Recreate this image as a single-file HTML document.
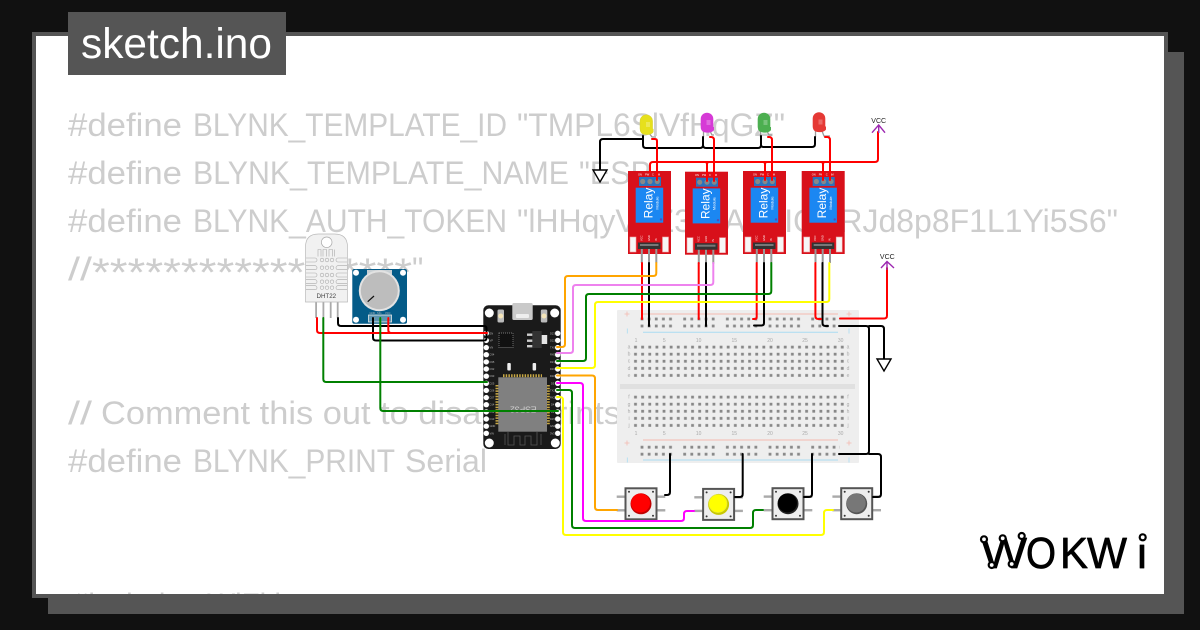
<!DOCTYPE html>
<html>
<head>
<meta charset="utf-8">
<style>
html,body{margin:0;padding:0;background:#111;width:1200px;height:630px;overflow:hidden}
svg{display:block}
.c{font-family:"Liberation Sans",sans-serif;font-size:32px;fill:#cdcdcd}
.w{fill:none;stroke-width:2;stroke-linejoin:round;stroke-linecap:round}
.bb{font-family:"Liberation Sans",sans-serif;font-size:5px;fill:#aaa;text-anchor:middle}
.p{font-family:"Liberation Sans",sans-serif;font-size:2.6px;fill:#bbb}
.r{font-family:"Liberation Sans",sans-serif;font-size:2.6px;fill:#fff}
.lg{font-family:"Liberation Sans",sans-serif;font-size:44px;fill:#000;stroke:#000;stroke-width:.7;stroke-linejoin:round}
</style>
</head>
<body>
<svg width="1200" height="630" viewBox="0 0 1200 630" xmlns="http://www.w3.org/2000/svg">
<defs>
<clipPath id="cl"><rect x="36" y="36" width="1128" height="558"/></clipPath>
<pattern id="hm" patternUnits="userSpaceOnUse" x="632" y="343.5" width="7.13" height="7.08"><rect x="2.1" y="2.2" width="2.8" height="2.8" fill="#888"/></pattern>
<pattern id="hr" patternUnits="userSpaceOnUse" x="640" y="317" width="42.67" height="7"><rect x=".6" y=".6" width="2.8" height="2.8" fill="#888"/><rect x="7.73" y=".6" width="2.8" height="2.8" fill="#888"/><rect x="14.86" y=".6" width="2.8" height="2.8" fill="#888"/><rect x="21.99" y=".6" width="2.8" height="2.8" fill="#888"/><rect x="29.12" y=".6" width="2.8" height="2.8" fill="#888"/></pattern>
<g id="rl">
<rect width="43" height="83" fill="#d8101a"/>
<rect x="11" y="6" width="22" height="9" fill="#2a72bd"/>
<circle cx="14.7" cy="10.5" r="2.6" fill="#888"/><circle cx="22" cy="10.5" r="2.6" fill="#888"/><circle cx="29.3" cy="10.5" r="2.6" fill="#888"/>
<rect x="7.7" y="16.7" width="27.5" height="35" fill="#1b87f2"/>
<circle cx="33" cy="48.5" r="1.2" fill="#5a4bb5"/>
<rect x="2" y="66" width="6" height="15" fill="#f6f6f6" stroke="#f0a0a0" stroke-width=".6"/>
<rect x="34.5" y="66" width="6" height="15" fill="#f6f6f6" stroke="#f0a0a0" stroke-width=".6"/>
<rect x="12.8" y="78" width="2" height="14" fill="#999"/><rect x="20" y="78" width="2" height="14" fill="#999"/><rect x="27.3" y="78" width="2" height="14" fill="#999"/>
<rect x="10" y="71.5" width="22.5" height="6.5" fill="#333"/>
<rect x="12" y="73" width="18.5" height="2" fill="#777"/>
</g>
<g id="bn">
<rect x="-24.3" y="-8.3" width="8" height="2.4" fill="#aaa"/><rect x="-24.3" y="5.3" width="8" height="2.4" fill="#aaa"/>
<rect x="16.3" y="-8.3" width="8" height="2.4" fill="#aaa"/><rect x="16.3" y="5.3" width="8" height="2.4" fill="#aaa"/>
<rect x="-15.5" y="-15.5" width="31" height="31" fill="#eee" stroke="#555" stroke-width="2"/>
<circle cx="-12" cy="-12" r="1" fill="#333"/><circle cx="12" cy="-12" r="1" fill="#333"/><circle cx="-12" cy="12" r="1" fill="#333"/><circle cx="12" cy="12" r="1" fill="#333"/>
</g>
</defs>

<rect width="1200" height="630" fill="#111"/>
<rect x="48" y="52" width="1136" height="562" fill="#555"/>
<rect x="32" y="32" width="1136" height="566" fill="#555"/>
<rect x="36" y="36" width="1128" height="558" fill="#fff"/>

<g clip-path="url(#cl)">
<text class="c" x="68" y="136" textLength="114" lengthAdjust="spacingAndGlyphs">#define</text>
<text class="c" x="193" y="136" textLength="314" lengthAdjust="spacingAndGlyphs">BLYNK_TEMPLATE_ID</text>
<text class="c" x="517" y="136" textLength="268" lengthAdjust="spacingAndGlyphs">"TMPL6SlVfHqGZ"</text>
<text class="c" x="68" y="184" textLength="114" lengthAdjust="spacingAndGlyphs">#define</text>
<text class="c" x="193" y="184" textLength="376" lengthAdjust="spacingAndGlyphs">BLYNK_TEMPLATE_NAME</text>
<text class="c" x="579" y="184" textLength="72" lengthAdjust="spacingAndGlyphs">"ESP</text>
<text class="c" x="68" y="232" textLength="114" lengthAdjust="spacingAndGlyphs">#define</text>
<text class="c" x="193" y="232" textLength="314" lengthAdjust="spacingAndGlyphs">BLYNK_AUTH_TOKEN</text>
<text class="c" x="517" y="232" textLength="601" lengthAdjust="spacingAndGlyphs">"lHHqyV5Z3cJA8KIQXRJd8p8F1L1Yi5S6"</text>
<text class="c" x="68" y="280" textLength="24" lengthAdjust="spacingAndGlyphs">//</text>
<text class="c" x="92" y="286" style="font-size:40px" textLength="320" lengthAdjust="spacingAndGlyphs">******************</text>
<text class="c" x="412" y="280">"</text>
<text class="c" x="68" y="424" textLength="24" lengthAdjust="spacingAndGlyphs">//</text>
<text class="c" x="101" y="424" textLength="520" lengthAdjust="spacingAndGlyphs">Comment this out to disable prints</text>
<text class="c" x="68" y="472" textLength="114" lengthAdjust="spacingAndGlyphs">#define</text>
<text class="c" x="193" y="472" textLength="202" lengthAdjust="spacingAndGlyphs">BLYNK_PRINT</text>
<text class="c" x="405" y="472" textLength="82" lengthAdjust="spacingAndGlyphs">Serial</text>
<text class="c" x="72" y="616" textLength="236" lengthAdjust="spacingAndGlyphs">#include &lt;WiFi.h&gt;</text>
</g>

<!-- tab -->
<rect x="68" y="12" width="218" height="63" fill="#555"/>
<text x="81" y="58" font-family="Liberation Sans,sans-serif" font-size="43" fill="#fff" textLength="191" lengthAdjust="spacingAndGlyphs">sketch.ino</text>

<!-- breadboard -->
<rect x="617" y="310" width="242" height="153" rx="1" fill="#eee"/>
<rect x="620" y="384" width="235" height="5" fill="#e0e0e0"/>
<line x1="643" y1="314" x2="838" y2="314" stroke="#f4b9b0" stroke-width="1"/>
<line x1="643" y1="332.3" x2="838" y2="332.3" stroke="#aadcf2" stroke-width="1"/>
<line x1="643" y1="440" x2="838" y2="440" stroke="#f4b9b0" stroke-width="1"/>
<line x1="643" y1="460" x2="838" y2="460" stroke="#aadcf2" stroke-width="1"/>
<g stroke="#f4b9b0" stroke-width=".8"><path d="M624.5 314h5M627 311.5v5M846.5 314h5M849 311.5v5M624.5 443h5M627 440.5v5M846.5 443h5M849 440.5v5"/></g>
<g stroke="#aadcf2" stroke-width=".8"><path d="M627.3 328.5v5M849 328.5v5M627.3 457.5v5M849 457.5v5"/></g>
<rect x="640" y="317" width="200" height="11" fill="url(#hr)"/>
<g transform="translate(0,128.2)"><rect x="640" y="317" width="200" height="11" fill="url(#hr)"/></g>
<rect x="633" y="344" width="212" height="35" fill="url(#hm)"/>
<g transform="translate(0,50)"><rect x="633" y="344" width="212" height="35" fill="url(#hm)"/></g>
<g>
<text class="bb" x="636" y="342">1</text><text class="bb" x="664.3" y="342">5</text><text class="bb" x="698.7" y="342">10</text><text class="bb" x="734.3" y="342">15</text><text class="bb" x="770" y="342">20</text><text class="bb" x="805" y="342">25</text><text class="bb" x="840.7" y="342">30</text>
<text class="bb" x="636" y="435">1</text><text class="bb" x="664.3" y="435">5</text><text class="bb" x="698.7" y="435">10</text><text class="bb" x="734.3" y="435">15</text><text class="bb" x="770" y="435">20</text><text class="bb" x="805" y="435">25</text><text class="bb" x="840.7" y="435">30</text>
<text class="bb" x="629" y="348.5">a</text><text class="bb" x="629" y="355.5">b</text><text class="bb" x="629" y="362.5">c</text><text class="bb" x="629" y="370">d</text><text class="bb" x="629" y="377">e</text>
<text class="bb" x="848" y="348.5">a</text><text class="bb" x="848" y="355.5">b</text><text class="bb" x="848" y="362.5">c</text><text class="bb" x="848" y="370">d</text><text class="bb" x="848" y="377">e</text>
<text class="bb" x="629" y="398.5">f</text><text class="bb" x="629" y="406">g</text><text class="bb" x="629" y="413">h</text><text class="bb" x="629" y="420">i</text><text class="bb" x="629" y="427">j</text>
<text class="bb" x="848" y="398.5">f</text><text class="bb" x="848" y="406">g</text><text class="bb" x="848" y="413">h</text><text class="bb" x="848" y="420">i</text><text class="bb" x="848" y="427">j</text>
</g>

<!-- DHT22 -->
<g>
<rect x="315.2" y="300" width="1.8" height="18" fill="#aaa"/><rect x="322.5" y="300" width="1.8" height="18" fill="#aaa"/><rect x="329.8" y="300" width="1.8" height="18" fill="#aaa"/><rect x="336.8" y="300" width="1.8" height="18" fill="#aaa"/>
<path d="M305.5 302V247q0-13 13-13h16q13 0 13 13v55z" fill="#f1f1f1" stroke="#b9b9b9" stroke-width=".7"/>
<circle cx="326.7" cy="242.3" r="5.3" fill="#fff" stroke="#aaa" stroke-width=".7"/>
<path d="M318 256.5v-7h3v7M323 256.5v-7h3.5v7M329 256.5v-7h3.5v7M334.5 256.5v-7" fill="none" stroke="#aaa" stroke-width=".6"/>
<g fill="none" stroke="#aaa" stroke-width=".6">
<path d="M306 258h9a2 2 0 0 1 0 4h-9M306 265.7h9a2 2 0 0 1 0 4h-9M306 273h9a2 2 0 0 1 0 4h-9M306 279.7h9a2 2 0 0 1 0 4h-9M306 285.7h9a2 2 0 0 1 0 4h-9"/>
<path d="M347 258h-9a2 2 0 0 0 0 4h9M347 265.7h-9a2 2 0 0 0 0 4h9M347 273h-9a2 2 0 0 0 0 4h9M347 279.7h-9a2 2 0 0 0 0 4h9M347 285.7h-9a2 2 0 0 0 0 4h9"/>
<circle cx="322" cy="260" r="1.8"/><circle cx="327" cy="260" r="1.8"/><circle cx="332" cy="260" r="1.8"/>
<circle cx="322" cy="267.7" r="1.8"/><circle cx="327" cy="267.7" r="1.8"/><circle cx="332" cy="267.7" r="1.8"/>
<circle cx="322" cy="275" r="1.8"/><circle cx="327" cy="275" r="1.8"/><circle cx="332" cy="275" r="1.8"/>
<circle cx="322" cy="281.7" r="1.8"/><circle cx="327" cy="281.7" r="1.8"/><circle cx="332" cy="281.7" r="1.8"/>
<circle cx="322" cy="287.7" r="1.8"/><circle cx="327" cy="287.7" r="1.8"/><circle cx="332" cy="287.7" r="1.8"/>
</g>
<text x="326.3" y="298" font-family="Liberation Sans,sans-serif" font-size="6.2" fill="#444" text-anchor="middle">DHT22</text>
</g>

<!-- Potentiometer -->
<g>
<rect x="352.3" y="269" width="54.7" height="54.7" rx="2" fill="#045b88"/>
<circle cx="356" cy="272.7" r="3" fill="#fff"/><circle cx="403" cy="272.7" r="3" fill="#fff"/><circle cx="356" cy="319.7" r="3" fill="#fff"/><circle cx="403" cy="319.7" r="3" fill="#fff"/>
<rect x="367" y="270" width="25" height="8" fill="#c8d0d4"/>
<circle cx="379.3" cy="290.7" r="20.5" fill="#e2e2e2"/>
<circle cx="379.3" cy="290.7" r="18.500" fill="#bdbdbd"/>
<line x1="367.7" y1="301.7" x2="374" y2="296" stroke="#111" stroke-width="1.2"/>
<rect x="368.5" y="315" width="23" height="7" fill="#fff" fill-opacity=".35" stroke="#e8e8e8" stroke-width=".8"/>
<circle cx="373.3" cy="318.5" r="1.4" fill="#999"/><circle cx="380.3" cy="318.5" r="1.4" fill="#999"/><circle cx="388.3" cy="318.5" r="1.4" fill="#999"/>
<text class="p" x="369.5" y="314">GND</text><text class="p" x="377" y="314">SIG</text><text class="p" x="385" y="314">VCC</text>
</g>

<!-- ESP32 -->
<g>
<rect x="483.3" y="305.3" width="77.4" height="143.7" rx="5" fill="#1a1a1a"/>
<rect x="512.3" y="303" width="20.4" height="17" rx="1.5" fill="#c9c9c9"/>
<rect x="516" y="314" width="13" height="4" rx="1" fill="#eee"/>
<circle cx="489.3" cy="313" r="4.5" fill="#fff"/><circle cx="554.7" cy="313" r="4.5" fill="#fff"/><circle cx="489.3" cy="443" r="4.5" fill="#fff"/><circle cx="555.3" cy="443" r="4.5" fill="#fff"/>
<rect x="497.5" y="309.5" width="6.5" height="13" rx="1.5" fill="#bbb"/><circle cx="500.7" cy="316" r="2.5" fill="#f4e4b8"/>
<rect x="540.8" y="309.5" width="6.5" height="13" rx="1.5" fill="#bbb"/><circle cx="544" cy="316" r="2.5" fill="#f4e4b8"/>
<rect x="499" y="333" width="14" height="14.5" fill="#111" stroke="#777" stroke-width=".9" stroke-dasharray="1 1"/>
<rect x="527" y="333.5" width="6" height="2.4" fill="#ccc"/><rect x="527" y="339.5" width="6" height="2.4" fill="#ccc"/><rect x="527" y="345" width="6" height="2.4" fill="#ccc"/>
<rect x="532.3" y="331" width="9.4" height="17" fill="#333"/><rect x="541.7" y="335" width="5.5" height="9" fill="#e5e5e5"/>
<rect x="507.3" y="363" width="3.5" height="7.5" rx="1" fill="#eee"/><rect x="532.6" y="363" width="3.5" height="7.5" rx="1" fill="#eee"/>
<g fill="none" stroke="#c9a945" stroke-width="3" stroke-dasharray="1.5 1.2">
<path d="M503 375.800H542M497 385V425M548.300 385V425"/>
</g>
<rect x="498.3" y="377.3" width="48.7" height="54.4" fill="#808080"/>
<text x="0" y="0" transform="translate(523.3,406.5) rotate(180)" font-family="Liberation Sans,sans-serif" font-size="8.5" fill="#d0d0d0" text-anchor="middle">ESP32</text>
<path d="M508 432v13h6v-9h6v9h5v-9h6v9h6v-13" fill="none" stroke="#555" stroke-width=".8"/>
<path d="M505 434v11M541 434v11" fill="none" stroke="#555" stroke-width=".8"/>
<g fill="#fff">
<circle cx="486.3" cy="333.3" r="2.7"/><circle cx="486.3" cy="340.4" r="2.7"/><circle cx="486.3" cy="347.6" r="2.7"/><circle cx="486.3" cy="354.7" r="2.7"/><circle cx="486.3" cy="361.9" r="2.7"/><circle cx="486.3" cy="369" r="2.7"/><circle cx="486.3" cy="376.2" r="2.7"/><circle cx="486.3" cy="383.3" r="2.7"/><circle cx="486.3" cy="390.4" r="2.7"/><circle cx="486.3" cy="397.6" r="2.7"/><circle cx="486.3" cy="404.7" r="2.7"/><circle cx="486.3" cy="411.9" r="2.7"/><circle cx="486.3" cy="419" r="2.7"/><circle cx="486.3" cy="426.2" r="2.7"/><circle cx="486.3" cy="433.3" r="2.7"/>
<circle cx="557.7" cy="333.3" r="2.7"/><circle cx="557.7" cy="340.4" r="2.7"/><circle cx="557.7" cy="347.6" r="2.7"/><circle cx="557.7" cy="354.7" r="2.7"/><circle cx="557.7" cy="361.9" r="2.7"/><circle cx="557.7" cy="369" r="2.7"/><circle cx="557.7" cy="376.2" r="2.7"/><circle cx="557.7" cy="383.3" r="2.7"/><circle cx="557.7" cy="390.4" r="2.7"/><circle cx="557.7" cy="397.6" r="2.7"/><circle cx="557.7" cy="404.7" r="2.7"/><circle cx="557.7" cy="411.9" r="2.7"/><circle cx="557.7" cy="419" r="2.7"/><circle cx="557.7" cy="426.2" r="2.7"/><circle cx="557.7" cy="433.3" r="2.7"/>
</g>
<g>
<text class="p" x="489.5" y="334.3">EN</text><text class="p" x="489.5" y="341.4">VP</text><text class="p" x="489.5" y="348.6">VN</text><text class="p" x="489.5" y="355.7">D34</text><text class="p" x="489.5" y="362.9">D35</text><text class="p" x="489.5" y="370">D32</text><text class="p" x="489.5" y="377.2">D33</text><text class="p" x="489.5" y="384.3">D25</text><text class="p" x="489.5" y="391.4">D26</text><text class="p" x="489.5" y="398.6">D27</text><text class="p" x="489.5" y="405.7">D14</text><text class="p" x="489.5" y="412.9">D12</text><text class="p" x="489.5" y="420">D13</text><text class="p" x="489.5" y="427.2">GND</text><text class="p" x="489.5" y="434.3">VIN</text>
<text class="p" x="550" y="334.3">D23</text><text class="p" x="550" y="341.4">D22</text><text class="p" x="550" y="348.6">TX0</text><text class="p" x="550" y="355.7">RX0</text><text class="p" x="550" y="362.9">D21</text><text class="p" x="550" y="370">D19</text><text class="p" x="550" y="377.2">D18</text><text class="p" x="551" y="384.3">D5</text><text class="p" x="550" y="391.4">TX2</text><text class="p" x="550" y="398.6">RX2</text><text class="p" x="551" y="405.7">D4</text><text class="p" x="551" y="412.9">D2</text><text class="p" x="550" y="420">D15</text><text class="p" x="550" y="427.2">GND</text><text class="p" x="550" y="434.3">3V3</text>
</g>
</g>

<!-- Relays -->
<use href="#rl" x="628" y="171"/>
<use href="#rl" x="685" y="171.7"/>
<use href="#rl" x="743" y="171"/>
<use href="#rl" x="801.7" y="171"/>
<g font-family="Liberation Sans,sans-serif" fill="#fff">
<text transform="translate(652.500,203) rotate(-90)" font-size="12" text-anchor="middle">Relay</text><text transform="translate(658.500,203) rotate(-90)" font-size="4" text-anchor="middle">Module</text>
<text transform="translate(709.500,203.7) rotate(-90)" font-size="12" text-anchor="middle">Relay</text><text transform="translate(715.500,203.7) rotate(-90)" font-size="4" text-anchor="middle">Module</text>
<text transform="translate(767.500,203) rotate(-90)" font-size="12" text-anchor="middle">Relay</text><text transform="translate(773.500,203) rotate(-90)" font-size="4" text-anchor="middle">Module</text>
<text transform="translate(826.200,203) rotate(-90)" font-size="12" text-anchor="middle">Relay</text><text transform="translate(832.200,203) rotate(-90)" font-size="4" text-anchor="middle">Module</text>
</g>
<g>
<text class="r" transform="translate(642.5,241) rotate(-90)">VCC</text><text class="r" transform="translate(650,241) rotate(-90)">GND</text><text class="r" transform="translate(657,241) rotate(-90)">IN</text>
<text class="r" transform="translate(699.5,241.7) rotate(-90)">VCC</text><text class="r" transform="translate(707,241.7) rotate(-90)">GND</text><text class="r" transform="translate(714,241.7) rotate(-90)">IN</text>
<text class="r" transform="translate(757.5,241) rotate(-90)">VCC</text><text class="r" transform="translate(765,241) rotate(-90)">GND</text><text class="r" transform="translate(772,241) rotate(-90)">IN</text>
<text class="r" transform="translate(816.2,241) rotate(-90)">VCC</text><text class="r" transform="translate(823.7,241) rotate(-90)">GND</text><text class="r" transform="translate(830.7,241) rotate(-90)">IN</text>
</g>
<g>
<text class="r" x="638" y="175.5">ON</text><text class="r" x="645" y="175.5">PW</text><text class="r" x="652" y="175.5">C</text><text class="r" x="656" y="175.5">NM</text>
<text class="r" x="695" y="176.2">ON</text><text class="r" x="702" y="176.2">PW</text><text class="r" x="709" y="176.2">C</text><text class="r" x="713" y="176.2">NM</text>
<text class="r" x="753" y="175.5">ON</text><text class="r" x="760" y="175.5">PW</text><text class="r" x="767" y="175.5">C</text><text class="r" x="771" y="175.5">NM</text>
<text class="r" x="811.7" y="175.5">ON</text><text class="r" x="818.7" y="175.5">PW</text><text class="r" x="825.7" y="175.5">C</text><text class="r" x="829.7" y="175.5">NM</text>
</g>

<!-- LEDs -->
<g fill="none" stroke="#999" stroke-width="1.3">
<path d="M643 133v5M649 133l3 4h4"/>
<path d="M703.5 131v6M710 131l2 4h2"/>
<path d="M760.5 131v6M767 131l2 4h3"/>
<path d="M815.5 131v6M822 131l2 5h6"/>
</g>
<path d="M640 121a6.3 6.3 0 0 1 12.6 0v8h.7v3q-1 2-5 2.6h-2q-6.3 0-6.3-6z" fill="#e6e01c" stroke="#d0cc30" stroke-width=".4"/>
<path d="M700.7 119a6.3 6.3 0 0 1 12.6 0v8h.7v3q-1 2-5 2.6h-2q-6.3 0-6.3-6z" fill="#d63ad6"/>
<path d="M757.7 119a6.3 6.3 0 0 1 12.6 0v8h.7v3q-1 2-5 2.6h-2q-6.3 0-6.3-6z" fill="#4caf50"/>
<path d="M812.7 118.5a6.3 6.3 0 0 1 12.6 0v8h.7v3q-1 2-5 2.6h-2q-6.3 0-6.3-6z" fill="#e53935"/>
<g fill="#fff" fill-opacity=".25">
<rect x="646" y="122" width="4" height="5"/><rect x="706.500" y="120" width="4" height="5"/><rect x="763.500" y="120" width="4" height="5"/><rect x="818.500" y="119.500" width="4" height="5"/>
</g>

<!-- Buttons -->
<use href="#bn" x="641" y="503.8"/>
<use href="#bn" x="718.6" y="504.4"/>
<use href="#bn" x="788" y="503.7"/>
<use href="#bn" x="856.7" y="503.7"/>
<circle cx="641" cy="503.8" r="10.5" fill="#c00000"/><circle cx="640.5" cy="503" r="9.500" fill="#f00"/>
<circle cx="718.6" cy="504.4" r="10.5" fill="#c8c800"/><circle cx="718" cy="503.6" r="9" fill="#ff0" stroke="#e6e640" stroke-width=".6"/>
<circle cx="788" cy="503.7" r="10.5" fill="#222"/><circle cx="787.5" cy="503" r="9.500" fill="#000"/>
<circle cx="856.7" cy="503.7" r="10.5" fill="#555"/><circle cx="856.2" cy="503" r="9.500" fill="#777"/>

<!-- Wires -->
<g class="w" stroke="#000">
<path d="M600 170V142q0-3 3-3H643M643 136V145q0 3 3 3H700q3 0 3-3V137M703 145q0 3 3 3H758q3 0 3-3V136M761 145q0 2 3 2H812q3 0 3-3V137"/>
<path d="M649 263V326M706 263V326M764 263V323q0 2.500-2.500 2.500H754M822.500 263V323q0 3 3 3H828"/>
<path d="M839 326H866q3 0 3 3V451q0 3-3 3H839M869 326H881q3 0 3 3V359M869 454H878q3 0 3 3V494q0 3-3 3H873"/>
<path d="M670 454V492q0 3-3 3H665M742.700 454V494q0 3-3 3H735M812 454V494q0 3-3 3H804"/>
<path d="M338 318V323q0 3 3 3H484q2.500 0 2.500 2.500V338q0 2.500-2.500 2.500H376q-3 0-3-3V318"/>
</g>
<path d="M593 170h14l-7 12z" fill="#fff" stroke="#000" stroke-width="1.4"/>
<path d="M877 359h14l-7 12z" fill="#fff" stroke="#000" stroke-width="1.4"/>
<g class="w" stroke="#f00">
<path d="M657 180V141q0-2-2-2h-3"/>
<path d="M714 181V140q0-3-3-3h-1"/>
<path d="M772 180V140q0-3-3-3h-1"/>
<path d="M830 180V140q0-3-3-3h-2"/>
<path d="M650 172V165q0-3 3-3H875q3 0 3-3V132"/>
<path d="M707 181V164q0-2-2-2M707 164q0-2 2-2M765 180V164q0-2-2-2M765 164q0-2 2-2M823 180V164q0-2-2-2M823 164q0-2 2-2"/>
<path d="M642 263V319M698.700 263V319M756.700 263V317q0 2-2 2H753M815.400 263V316q0 3 3 3H821"/>
<path d="M840 318.500H884q3 0 3-3V268"/>
<path d="M317 318V330q0 3 3 3H487M388.300 318V330q0 3 3 3"/>
</g>
<g fill="none" stroke="#9c27b0" stroke-width="1.400"><path d="M878.700 125V133M872 132.700L878.700 125L885 132.700"/><path d="M887 262V270M881 268L887 261.500L894 268"/></g>
<text x="878.700" y="123" font-family="Liberation Sans,sans-serif" font-size="7" fill="#222" text-anchor="middle">VCC</text>
<text x="887.300" y="259" font-family="Liberation Sans,sans-serif" font-size="7" fill="#222" text-anchor="middle">VCC</text>
<g class="w">
<path stroke="#ffa500" d="M656.300 263V273q0 3-3 3H568q-3 0-3 3V344q0 3-3 3H557"/>
<path stroke="#ee82ee" d="M713.300 263V282q0 3-3 3H576q-3 0-3 3V350q0 3-3 3H557"/>
<path stroke="#008000" d="M771.300 263V291q0 3-3 3H589q-3 0-3 3V358q0 3-3 3H557"/>
<path stroke="#ff0" d="M829.300 263V299q0 3-3 3H598q-3 0-3 3V365q0 3-3 3H557"/>
<path stroke="#ffa500" d="M557 375.500H592q3 0 3 3V507q0 3 3 3H617"/>
<path stroke="#f0f" d="M557 383H580q3 0 3 3V518q0 3 3 3H681q3 0 3-3V514q0-3 3-3H694"/>
<path stroke="#008000" d="M557 390H569q3 0 3 3V525q0 3 3 3H750q3 0 3-3V513q0-3 3-3H763"/>
<path stroke="#ff0" d="M557 397H560q3 0 3 3V532q0 3 3 3H821q3 0 3-3V513q0-3 3-3H833"/>
<path stroke="#008000" d="M323.300 318V379q0 3 3 3H487"/>
<path stroke="#008000" d="M380.300 318V408q0 3 3 3H558"/>
</g>

<!-- Wokwi logo -->
<g>
<text class="lg" x="981" y="568" textLength="46" lengthAdjust="spacingAndGlyphs">W</text>
<text class="lg" x="1026" y="568" textLength="30" lengthAdjust="spacingAndGlyphs">O</text>
<text class="lg" x="1060" y="568" textLength="28" lengthAdjust="spacingAndGlyphs">K</text>
<text class="lg" x="1087" y="568" textLength="40" lengthAdjust="spacingAndGlyphs">W</text>
<text class="lg" x="1137" y="568" textLength="10" lengthAdjust="spacingAndGlyphs">i</text>
</g>
<g fill="#fff" stroke="#000" stroke-width="2.200">
<circle cx="984" cy="539.300" r="3"/><circle cx="1002.700" cy="538.300" r="3"/><circle cx="1021.700" cy="536" r="3"/><circle cx="991.700" cy="565" r="3"/><circle cx="1011.700" cy="564" r="3"/><circle cx="1142.700" cy="537.300" r="3"/>
</g>
</svg>
</body>
</html>
